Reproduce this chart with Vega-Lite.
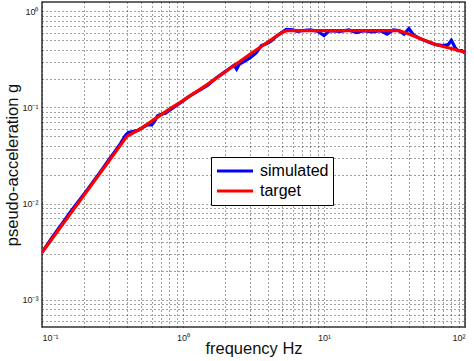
{
  "$schema": "https://vega.github.io/schema/vega-lite/v6.json",
  "width": 423,
  "height": 325,
  "autosize": {"type": "none"},
  "padding": {"left": 42, "top": 2, "right": 9, "bottom": 34},
  "background": "white",
  "config": {
    "view": {"stroke": "#333333", "strokeWidth": 1.5},
    "font": "Liberation Sans",
    "axis": {
      "domain": false,
      "ticks": false,
      "grid": true,
      "gridColor": "#000000",
      "gridDash": [1, 3],
      "gridOpacity": 0.75,
      "gridWidth": 1,
      "labelFont": "Liberation Sans",
      "labelFontSize": 9,
      "labelColor": "#222222",
      "titleFont": "Liberation Sans",
      "titleFontSize": 16.5,
      "titleFontWeight": "normal",
      "titleColor": "#111111"
    }
  },
  "data": {
    "values": [
      {"f": 0.1, "v": 0.0031, "series": "simulated"},
      {"f": 0.12, "v": 0.0046, "series": "simulated"},
      {"f": 0.14, "v": 0.0063, "series": "simulated"},
      {"f": 0.16, "v": 0.0083, "series": "simulated"},
      {"f": 0.18, "v": 0.0104, "series": "simulated"},
      {"f": 0.2, "v": 0.0127, "series": "simulated"},
      {"f": 0.23, "v": 0.0168, "series": "simulated"},
      {"f": 0.26, "v": 0.0215, "series": "simulated"},
      {"f": 0.3, "v": 0.029, "series": "simulated"},
      {"f": 0.33, "v": 0.035, "series": "simulated"},
      {"f": 0.36, "v": 0.042, "series": "simulated"},
      {"f": 0.39, "v": 0.051, "series": "simulated"},
      {"f": 0.41, "v": 0.055, "series": "simulated"},
      {"f": 0.44, "v": 0.056, "series": "simulated"},
      {"f": 0.48, "v": 0.058, "series": "simulated"},
      {"f": 0.52, "v": 0.062, "series": "simulated"},
      {"f": 0.56, "v": 0.066, "series": "simulated"},
      {"f": 0.6, "v": 0.066, "series": "simulated"},
      {"f": 0.63, "v": 0.072, "series": "simulated"},
      {"f": 0.66, "v": 0.082, "series": "simulated"},
      {"f": 0.7, "v": 0.085, "series": "simulated"},
      {"f": 0.75, "v": 0.087, "series": "simulated"},
      {"f": 0.8, "v": 0.093, "series": "simulated"},
      {"f": 0.9, "v": 0.105, "series": "simulated"},
      {"f": 1.0, "v": 0.117, "series": "simulated"},
      {"f": 1.1, "v": 0.13, "series": "simulated"},
      {"f": 1.2, "v": 0.14, "series": "simulated"},
      {"f": 1.35, "v": 0.155, "series": "simulated"},
      {"f": 1.5, "v": 0.17, "series": "simulated"},
      {"f": 1.7, "v": 0.2, "series": "simulated"},
      {"f": 1.9, "v": 0.225, "series": "simulated"},
      {"f": 2.1, "v": 0.25, "series": "simulated"},
      {"f": 2.3, "v": 0.275, "series": "simulated"},
      {"f": 2.4, "v": 0.25, "series": "simulated"},
      {"f": 2.5, "v": 0.28, "series": "simulated"},
      {"f": 2.7, "v": 0.3, "series": "simulated"},
      {"f": 3.0, "v": 0.33, "series": "simulated"},
      {"f": 3.3, "v": 0.37, "series": "simulated"},
      {"f": 3.6, "v": 0.44, "series": "simulated"},
      {"f": 3.9, "v": 0.46, "series": "simulated"},
      {"f": 4.2, "v": 0.49, "series": "simulated"},
      {"f": 4.6, "v": 0.55, "series": "simulated"},
      {"f": 5.0, "v": 0.6, "series": "simulated"},
      {"f": 5.4, "v": 0.65, "series": "simulated"},
      {"f": 6.0, "v": 0.64, "series": "simulated"},
      {"f": 6.5, "v": 0.62, "series": "simulated"},
      {"f": 7.0, "v": 0.63, "series": "simulated"},
      {"f": 8.0, "v": 0.64, "series": "simulated"},
      {"f": 9.0, "v": 0.62, "series": "simulated"},
      {"f": 10.0, "v": 0.56, "series": "simulated"},
      {"f": 11.0, "v": 0.63, "series": "simulated"},
      {"f": 13.0, "v": 0.62, "series": "simulated"},
      {"f": 15.0, "v": 0.64, "series": "simulated"},
      {"f": 17.0, "v": 0.6, "series": "simulated"},
      {"f": 19.0, "v": 0.63, "series": "simulated"},
      {"f": 22.0, "v": 0.61, "series": "simulated"},
      {"f": 25.0, "v": 0.63, "series": "simulated"},
      {"f": 28.0, "v": 0.58, "series": "simulated"},
      {"f": 31.0, "v": 0.64, "series": "simulated"},
      {"f": 34.0, "v": 0.63, "series": "simulated"},
      {"f": 37.0, "v": 0.58, "series": "simulated"},
      {"f": 40.0, "v": 0.66, "series": "simulated"},
      {"f": 43.0, "v": 0.57, "series": "simulated"},
      {"f": 48.0, "v": 0.52, "series": "simulated"},
      {"f": 55.0, "v": 0.48, "series": "simulated"},
      {"f": 62.0, "v": 0.45, "series": "simulated"},
      {"f": 70.0, "v": 0.44, "series": "simulated"},
      {"f": 76.0, "v": 0.45, "series": "simulated"},
      {"f": 80.0, "v": 0.5, "series": "simulated"},
      {"f": 85.0, "v": 0.42, "series": "simulated"},
      {"f": 89.0, "v": 0.39, "series": "simulated"},
      {"f": 95.0, "v": 0.39, "series": "simulated"},
      {"f": 100.0, "v": 0.37, "series": "simulated"},
      {"f": 0.1, "v": 0.0031, "series": "target"},
      {"f": 0.2, "v": 0.0124, "series": "target"},
      {"f": 0.3, "v": 0.028, "series": "target"},
      {"f": 0.4, "v": 0.05, "series": "target"},
      {"f": 0.5, "v": 0.06, "series": "target"},
      {"f": 0.6, "v": 0.072, "series": "target"},
      {"f": 0.8, "v": 0.096, "series": "target"},
      {"f": 1.0, "v": 0.118, "series": "target"},
      {"f": 1.5, "v": 0.175, "series": "target"},
      {"f": 2.0, "v": 0.235, "series": "target"},
      {"f": 3.0, "v": 0.36, "series": "target"},
      {"f": 4.0, "v": 0.48, "series": "target"},
      {"f": 5.0, "v": 0.6, "series": "target"},
      {"f": 5.5, "v": 0.63, "series": "target"},
      {"f": 7.0, "v": 0.63, "series": "target"},
      {"f": 10.0, "v": 0.63, "series": "target"},
      {"f": 15.0, "v": 0.63, "series": "target"},
      {"f": 20.0, "v": 0.63, "series": "target"},
      {"f": 30.0, "v": 0.63, "series": "target"},
      {"f": 34.0, "v": 0.63, "series": "target"},
      {"f": 40.0, "v": 0.58, "series": "target"},
      {"f": 50.0, "v": 0.51, "series": "target"},
      {"f": 60.0, "v": 0.46, "series": "target"},
      {"f": 70.0, "v": 0.43, "series": "target"},
      {"f": 80.0, "v": 0.41, "series": "target"},
      {"f": 100.0, "v": 0.376, "series": "target"}
    ]
  },
  "mark": {"type": "line", "strokeWidth": 3.2, "clip": true},
  "encoding": {
    "x": {
      "field": "f",
      "type": "quantitative",
      "scale": {"type": "log", "domain": [0.1, 100], "nice": false},
      "axis": {
        "title": "frequency Hz",
        "titleY": 13,
        "labelPadding": 6,
        "values": [0.1, 0.2, 0.3, 0.4, 0.5, 0.6, 0.7, 0.8, 0.9, 1, 2, 3, 4, 5, 6, 7, 8, 9, 10, 20, 30, 40, 50, 60, 70, 80, 90, 100],
        "labelExpr": "datum.value == 0.1 ? '10⁻¹' : datum.value == 1 ? '10⁰' : datum.value == 10 ? '10¹' : datum.value == 100 ? '10²' : ''"
      }
    },
    "y": {
      "field": "v",
      "type": "quantitative",
      "scale": {"type": "log", "domain": [0.00052, 1.25], "nice": false},
      "axis": {
        "title": "pseudo-acceleration g",
        "titleX": -22,
        "labelPadding": 4,
        "values": [0.0006, 0.0007, 0.0008, 0.0009, 0.001, 0.002, 0.003, 0.004, 0.005, 0.006, 0.007, 0.008, 0.009, 0.01, 0.02, 0.03, 0.04, 0.05, 0.06, 0.07, 0.08, 0.09, 0.1, 0.2, 0.3, 0.4, 0.5, 0.6, 0.7, 0.8, 0.9, 1],
        "labelExpr": "datum.value == 0.001 ? '10⁻³' : datum.value == 0.01 ? '10⁻²' : datum.value == 0.1 ? '10⁻¹' : datum.value == 1 ? '10⁰' : ''"
      }
    },
    "color": {
      "field": "series",
      "type": "nominal",
      "scale": {"domain": ["simulated", "target"], "range": ["#0000ff", "#ff0000"]},
      "legend": {
        "title": null,
        "orient": "none",
        "legendX": 169,
        "legendY": 155,
        "fillColor": "white",
        "strokeColor": "#000000",
        "padding": 4,
        "symbolType": "stroke",
        "symbolSize": 1300,
        "symbolStrokeWidth": 3,
        "labelFontSize": 16,
        "labelFont": "Liberation Sans",
        "labelColor": "#000000",
        "labelExpr": "datum.label + '\u00a0\u00a0'",
        "rowPadding": 0,
        "clipHeight": 20,
        "labelOffset": 5
      }
    }
  }
}
